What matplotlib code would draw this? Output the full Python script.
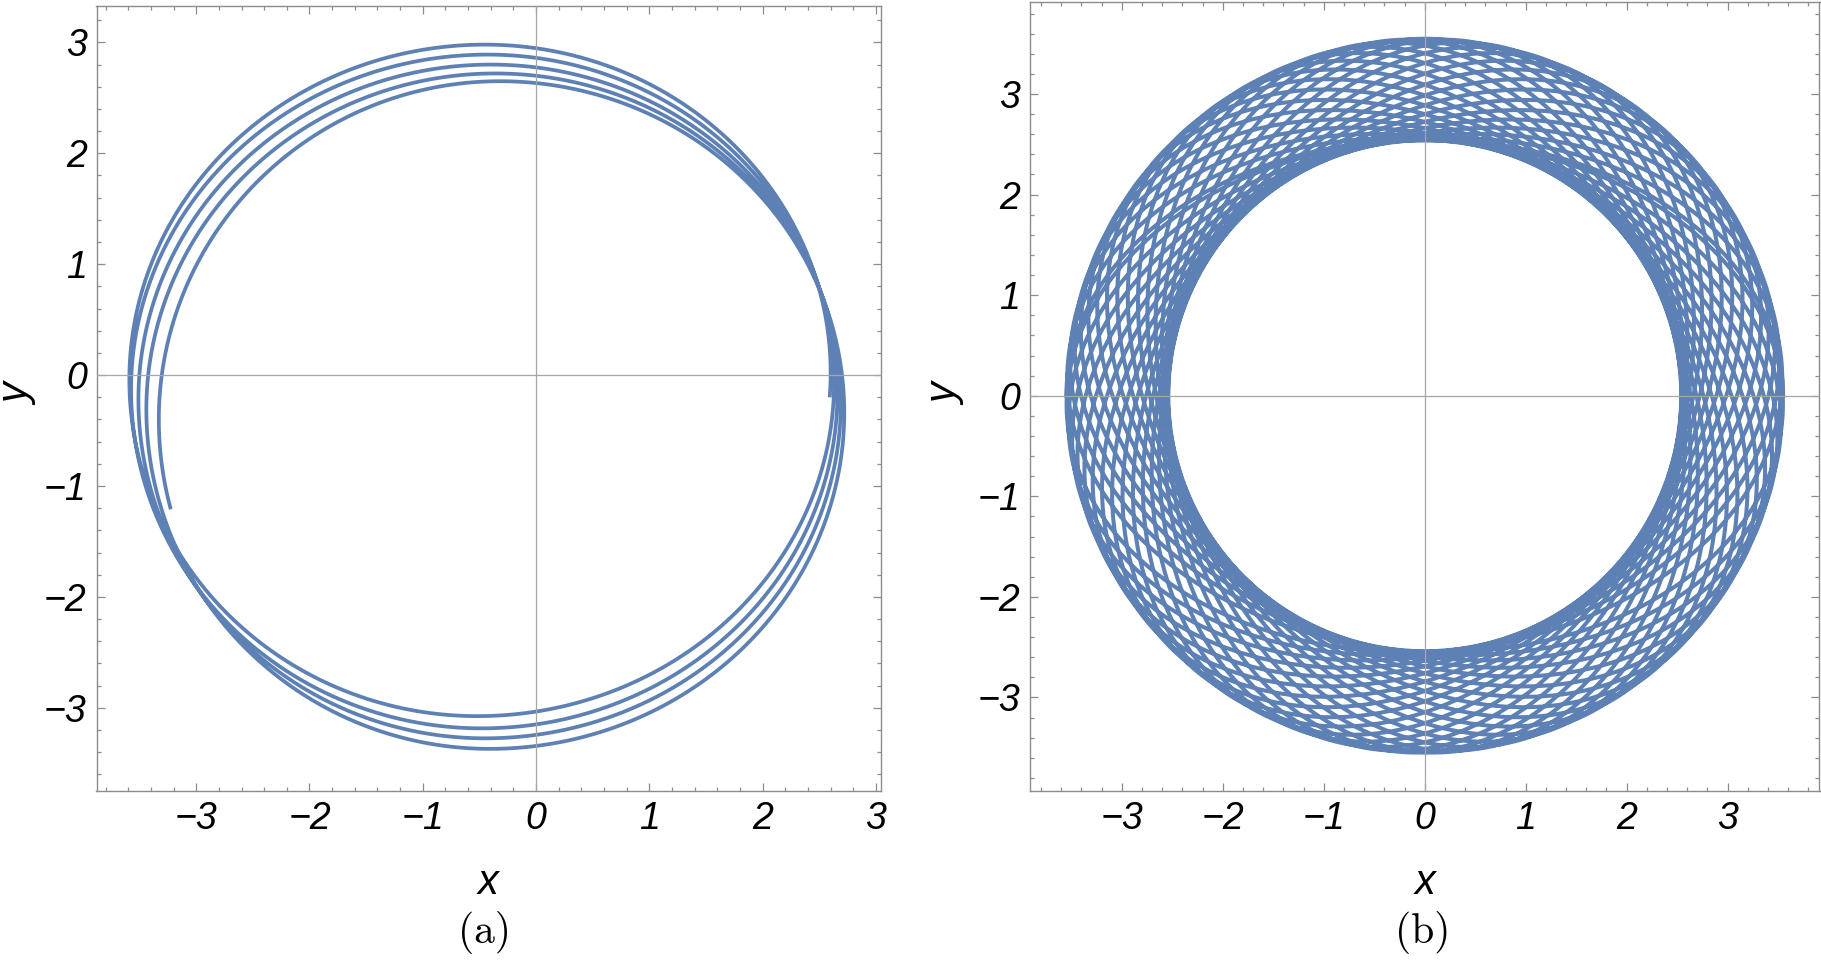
import numpy as np
import matplotlib
matplotlib.use("Agg")
import matplotlib.pyplot as plt
from matplotlib.ticker import MultipleLocator

plt.rcParams['font.family'] = ['Liberation Sans', 'DejaVu Sans']
plt.rcParams['font.style'] = 'italic'

BLUE = '#5E81B5'
GREY = '#8c8c8c'

# ---- panel (a): extremes of each turn of the spiral ----
# turn k passes left -> top -> right -> bottom (clockwise)
left_x = [-3.33, -3.44, -3.51, -3.575, -3.59]
left_y = [-0.40, -0.31, -0.22, -0.13, -0.04]
top_x = [-0.32, -0.36, -0.40, -0.43, -0.45]
top_y = [2.65, 2.72, 2.80, 2.89, 2.98]
right_x = [2.72, 2.69, 2.66, 2.63, 2.60]
right_y = [-0.34, -0.25, -0.16, -0.07, 0.02]
bottom_x = [-0.41, -0.45, -0.48, -0.52]
bottom_y = [-3.37, -3.275, -3.185, -3.075]
bottom_before = (-0.37, -3.46)   # where the turn before the start would bottom out
bottom_after = (-0.55, -2.98)    # where the turn after the end would bottom out
start_y = -1.21                  # curve starts at (-3.24, -1.21)
end_y = -0.20                    # curve stops on the right side

# ---- panel (b): precessing orbit filling an annulus ----
orbit_semi_axes = [3.55, 2.54]   # outer / inner radius of the band
orbit_revolutions = 30
orbit_precession = np.pi         # total turn of the orbit over the run


def quarter(p0, p1, kind, phi0=0.0, phi1=np.pi / 2):
    # quarter ellipse between two extreme points; kind 'h' = p0 is a left/right extreme
    phi = np.linspace(phi0, phi1, 80)
    if kind == 'h':
        x = p1[0] + (p0[0] - p1[0]) * np.cos(phi)
        y = p0[1] + (p1[1] - p0[1]) * np.sin(phi)
    else:
        x = p0[0] + (p1[0] - p0[0]) * np.sin(phi)
        y = p1[1] + (p0[1] - p1[1]) * np.cos(phi)
    return x, y


def spiral_path():
    pts = []
    for k in range(len(top_y)):
        pts.append(((left_x[k], left_y[k]), 'h'))
        pts.append(((top_x[k], top_y[k]), 'v'))
        pts.append(((right_x[k], right_y[k]), 'h'))
        if k < len(bottom_y):
            pts.append(((bottom_x[k], bottom_y[k]), 'v'))
    xs, ys = [], []
    # first partial piece, from the start point up to the first left extreme
    p1 = pts[0][0]
    c = (start_y - p1[1]) / (bottom_before[1] - p1[1])
    x, y = quarter(bottom_before, p1, 'v', np.arccos(c), np.pi / 2)
    xs.append(x); ys.append(y)
    for (p0, kind), (p1, _) in zip(pts[:-1], pts[1:]):
        x, y = quarter(p0, p1, kind)
        xs.append(x); ys.append(y)
    # last partial piece, down the right side
    p0 = pts[-1][0]
    s = (end_y - p0[1]) / (bottom_after[1] - p0[1])
    x, y = quarter(p0, bottom_after, 'h', 0.0, np.arcsin(s))
    xs.append(x); ys.append(y)
    return np.concatenate(xs), np.concatenate(ys)


def style_axes(ax, xlim, ylim):
    ax.set_xlim(*xlim)
    ax.set_ylim(*ylim)
    ax.xaxis.set_major_locator(MultipleLocator(1))
    ax.yaxis.set_major_locator(MultipleLocator(1))
    ax.xaxis.set_minor_locator(MultipleLocator(0.2))
    ax.yaxis.set_minor_locator(MultipleLocator(0.2))
    ax.tick_params(which='both', direction='in', top=True, right=True,
                   color=GREY, width=0.9)
    ax.tick_params(which='major', length=6, labelsize=27, pad=7)
    ax.tick_params(which='minor', length=3)
    for sp in ax.spines.values():
        sp.set_color(GREY)
        sp.set_linewidth(1.0)
    ax.axhline(0, color='#a6a6a6', lw=0.9, zorder=3)
    ax.axvline(0, color='#a6a6a6', lw=0.9, zorder=3)


W, H = 1821, 960
fig = plt.figure(figsize=(W / 100, H / 100), dpi=100)

ax1 = fig.add_axes([96.5 / W, 1 - 791 / H, (880.5 - 96.5) / W, (791 - 5.8) / H])
sx, sy = spiral_path()
ax1.plot(sx, sy, color=BLUE, lw=2.7, solid_capstyle='butt', zorder=2)
style_axes(ax1, (-3.88, 3.04), (-3.75, 3.33))

ax2 = fig.add_axes([1030 / W, 1 - 791 / H, (1819.5 - 1030) / W, (791 - 1.5) / H])
a, b = orbit_semi_axes
t = np.linspace(0, 2 * np.pi * orbit_revolutions, orbit_revolutions * 900)
alpha = orbit_precession * t / t[-1]
ox = a * np.cos(t) * np.cos(alpha) - b * np.sin(t) * np.sin(alpha)
oy = a * np.cos(t) * np.sin(alpha) + b * np.sin(t) * np.cos(alpha)
ax2.plot(ox, oy, color=BLUE, lw=2.9, zorder=2)
style_axes(ax2, (-3.91, 3.91), (-3.93, 3.92))

# axis labels and panel letters
for cx, lx in [(488, 18), (1425, 946)]:
    fig.text(cx / W, 1 - 883 / H, 'x', fontsize=30, ha='center', va='center')
    fig.text(lx / W, 1 - 395 / H, 'y', fontsize=30, ha='center', va='center',
             rotation=90)
fig.text(485 / W, 1 - 933 / H, '(a)', fontsize=30, family='cmr10',
         style='normal', ha='center', va='center')
fig.text(1423 / W, 1 - 933 / H, '(b)', fontsize=30, family='cmr10',
         style='normal', ha='center', va='center')

fig.savefig('out.png', dpi=100, facecolor='white')
